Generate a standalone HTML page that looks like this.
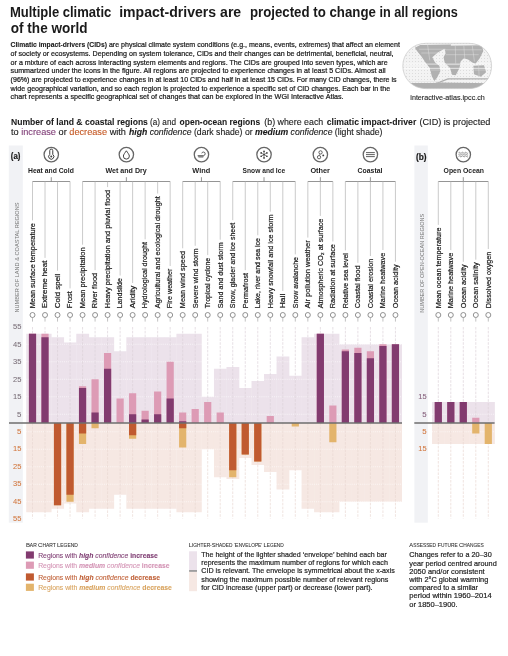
<!DOCTYPE html><html><head><meta charset="utf-8"><style>html,body{margin:0;padding:0;background:#fff;width:508px;height:656px;overflow:hidden}svg{display:block;will-change:transform}text{font-family:"Liberation Sans",sans-serif}</style></head><body>
<svg width="508" height="656" viewBox="0 0 508 656">
<text x="9.9" y="16.5" font-size="14.2" font-weight="bold" font-style="normal" fill="#1a1a1a" text-anchor="start" textLength="101.41" lengthAdjust="spacingAndGlyphs">Multiple climatic</text>
<text x="119.18" y="16.5" font-size="14.2" font-weight="bold" font-style="normal" fill="#1a1a1a" text-anchor="start" textLength="122.04" lengthAdjust="spacingAndGlyphs">impact-drivers are</text>
<text x="249.91" y="16.5" font-size="14.2" font-weight="bold" font-style="normal" fill="#1a1a1a" text-anchor="start" textLength="125.97" lengthAdjust="spacingAndGlyphs">projected to change</text>
<text x="379.41" y="16.5" font-size="14.2" font-weight="bold" font-style="normal" fill="#1a1a1a" text-anchor="start" textLength="78.37" lengthAdjust="spacingAndGlyphs">in all regions</text>
<text x="10.8" y="32.5" font-size="14.2" font-weight="bold" font-style="normal" fill="#1a1a1a" text-anchor="start" textLength="76.8" lengthAdjust="spacingAndGlyphs">of the world</text>
<text x="10.6" y="47.3" font-size="7.4" font-weight="bold" font-style="normal" fill="#1a1a1a" text-anchor="start" textLength="96.4" lengthAdjust="spacingAndGlyphs" stroke="#1a1a1a" stroke-width="0.1">Climatic impact-drivers (CIDs)</text>
<text x="108.9" y="47.3" font-size="7.4" font-weight="normal" font-style="normal" fill="#1a1a1a" text-anchor="start" textLength="291" lengthAdjust="spacingAndGlyphs" stroke="#1a1a1a" stroke-width="0.22">are physical climate system conditions (e.g., means, events, extremes) that affect an element</text>
<text x="10.6" y="55.98" font-size="7.4" font-weight="normal" font-style="normal" fill="#1a1a1a" text-anchor="start" textLength="383" lengthAdjust="spacingAndGlyphs" stroke="#1a1a1a" stroke-width="0.22">of society or ecosystems. Depending on system tolerance, CIDs and their changes can be detrimental, beneficial, neutral,</text>
<text x="10.6" y="64.66" font-size="7.4" font-weight="normal" font-style="normal" fill="#1a1a1a" text-anchor="start" textLength="377" lengthAdjust="spacingAndGlyphs" stroke="#1a1a1a" stroke-width="0.22">or a mixture of each across interacting system elements and regions. The CIDs are grouped into seven types, which are</text>
<text x="10.6" y="73.34" font-size="7.4" font-weight="normal" font-style="normal" fill="#1a1a1a" text-anchor="start" textLength="375" lengthAdjust="spacingAndGlyphs" stroke="#1a1a1a" stroke-width="0.22">summarized under the icons in the figure. All regions are projected to experience changes in at least 5 CIDs. Almost all</text>
<text x="10.6" y="82.02" font-size="7.4" font-weight="normal" font-style="normal" fill="#1a1a1a" text-anchor="start" textLength="386" lengthAdjust="spacingAndGlyphs" stroke="#1a1a1a" stroke-width="0.22">(96%) are projected to experience changes in at least 10 CIDs and half in at least 15 CIDs. For many CID changes, there is</text>
<text x="10.6" y="90.69999999999999" font-size="7.4" font-weight="normal" font-style="normal" fill="#1a1a1a" text-anchor="start" textLength="379.5" lengthAdjust="spacingAndGlyphs" stroke="#1a1a1a" stroke-width="0.22">wide geographical variation, and so each region is projected to experience a specific set of CID changes. Each bar in the</text>
<text x="10.6" y="99.38" font-size="7.4" font-weight="normal" font-style="normal" fill="#1a1a1a" text-anchor="start" textLength="333" lengthAdjust="spacingAndGlyphs" stroke="#1a1a1a" stroke-width="0.22">chart represents a specific geographical set of changes that can be explored in the WGI Interactive Atlas.</text>
<text x="11" y="124.5" font-size="8.7" font-weight="bold" font-style="normal" fill="#1a1a1a" text-anchor="start" textLength="136.9" lengthAdjust="spacingAndGlyphs" stroke="#1a1a1a" stroke-width="0.05">Number of land &amp; coastal regions</text>
<text x="150.1" y="124.5" font-size="8.7" font-weight="normal" font-style="normal" fill="#1a1a1a" text-anchor="start" textLength="25.9" lengthAdjust="spacingAndGlyphs" stroke="#1a1a1a" stroke-width="0.12">(a) and</text>
<text x="179.6" y="124.5" font-size="8.7" font-weight="bold" font-style="normal" fill="#1a1a1a" text-anchor="start" textLength="80.5" lengthAdjust="spacingAndGlyphs" stroke="#1a1a1a" stroke-width="0.05">open-ocean regions</text>
<text x="264.3" y="124.5" font-size="8.7" font-weight="normal" font-style="normal" fill="#1a1a1a" text-anchor="start" textLength="59" lengthAdjust="spacingAndGlyphs" stroke="#1a1a1a" stroke-width="0.12">(b) where each</text>
<text x="326.7" y="124.5" font-size="8.7" font-weight="bold" font-style="normal" fill="#1a1a1a" text-anchor="start" textLength="89.6" lengthAdjust="spacingAndGlyphs" stroke="#1a1a1a" stroke-width="0.05">climatic impact-driver</text>
<text x="419.5" y="124.5" font-size="8.7" font-weight="normal" font-style="normal" fill="#1a1a1a" text-anchor="start" textLength="70.8" lengthAdjust="spacingAndGlyphs" stroke="#1a1a1a" stroke-width="0.12">(CID) is projected</text>
<text x="11" y="135.1" font-size="8.7" font-weight="normal" font-style="normal" fill="#1a1a1a" text-anchor="start" textLength="115" lengthAdjust="spacingAndGlyphs" stroke="#1a1a1a" stroke-width="0.12">to <tspan fill="#83427a" stroke="#83427a">increase</tspan> or <tspan fill="#c55a26" stroke="#c55a26">decrease</tspan> with</text>
<text x="129" y="135.1" font-size="8.7" font-weight="normal" font-style="normal" fill="#1a1a1a" text-anchor="start" textLength="253.5" lengthAdjust="spacingAndGlyphs" stroke="#1a1a1a" stroke-width="0.12"><tspan font-weight="bold" font-style="italic">high</tspan> <tspan font-style="italic">confidence</tspan> (dark shade) or <tspan font-weight="bold" font-style="italic">medium</tspan> <tspan font-style="italic">confidence</tspan> (light shade)</text>
<rect x="8.8" y="145.5" width="14.0" height="377.2" fill="#f1f2f5"/>
<rect x="414.4" y="145.5" width="13.4" height="377.2" fill="#f1f2f5"/>
<text x="10.8" y="159.3" font-size="8.8" font-weight="bold" font-style="normal" fill="#1a1a1a" text-anchor="start" textLength="9.6" lengthAdjust="spacingAndGlyphs" stroke="#1a1a1a" stroke-width="0.2">(a)</text>
<text x="416" y="160.2" font-size="8.8" font-weight="bold" font-style="normal" fill="#1a1a1a" text-anchor="start" textLength="10.6" lengthAdjust="spacingAndGlyphs" stroke="#1a1a1a" stroke-width="0.2">(b)</text>
<text transform="translate(19.4,312.5) rotate(-90)" font-size="6.1" fill="#767676" textLength="110" lengthAdjust="spacingAndGlyphs">NUMBER OF LAND &amp; COASTAL REGIONS</text>
<text transform="translate(423.8,312.7) rotate(-90)" font-size="6.1" fill="#767676" textLength="99" lengthAdjust="spacingAndGlyphs">NUMBER OF OPEN-OCEAN REGIONS</text>
<rect x="26.24" y="333.75" width="12.82" height="89.25" fill="#ece2eb"/>
<rect x="26.24" y="423.00" width="12.82" height="89.25" fill="#f6e8e3"/>
<rect x="38.76" y="333.75" width="12.82" height="89.25" fill="#ece2eb"/>
<rect x="38.76" y="423.00" width="12.82" height="89.25" fill="#f6e8e3"/>
<rect x="51.27" y="337.25" width="12.82" height="85.75" fill="#ece2eb"/>
<rect x="51.27" y="423.00" width="12.82" height="85.75" fill="#f6e8e3"/>
<rect x="63.79" y="342.50" width="12.82" height="80.50" fill="#ece2eb"/>
<rect x="63.79" y="423.00" width="12.82" height="80.50" fill="#f6e8e3"/>
<rect x="76.30" y="333.75" width="12.82" height="89.25" fill="#ece2eb"/>
<rect x="76.30" y="423.00" width="12.82" height="89.25" fill="#f6e8e3"/>
<rect x="88.82" y="337.25" width="12.82" height="85.75" fill="#ece2eb"/>
<rect x="88.82" y="423.00" width="12.82" height="85.75" fill="#f6e8e3"/>
<rect x="101.33" y="337.25" width="12.82" height="85.75" fill="#ece2eb"/>
<rect x="101.33" y="423.00" width="12.82" height="85.75" fill="#f6e8e3"/>
<rect x="113.85" y="351.25" width="12.82" height="71.75" fill="#ece2eb"/>
<rect x="113.85" y="423.00" width="12.82" height="71.75" fill="#f6e8e3"/>
<rect x="126.36" y="337.25" width="12.82" height="85.75" fill="#ece2eb"/>
<rect x="126.36" y="423.00" width="12.82" height="85.75" fill="#f6e8e3"/>
<rect x="138.88" y="337.25" width="12.82" height="85.75" fill="#ece2eb"/>
<rect x="138.88" y="423.00" width="12.82" height="85.75" fill="#f6e8e3"/>
<rect x="151.39" y="337.25" width="12.82" height="85.75" fill="#ece2eb"/>
<rect x="151.39" y="423.00" width="12.82" height="85.75" fill="#f6e8e3"/>
<rect x="163.91" y="337.25" width="12.82" height="85.75" fill="#ece2eb"/>
<rect x="163.91" y="423.00" width="12.82" height="85.75" fill="#f6e8e3"/>
<rect x="176.42" y="333.75" width="12.82" height="89.25" fill="#ece2eb"/>
<rect x="176.42" y="423.00" width="12.82" height="89.25" fill="#f6e8e3"/>
<rect x="188.94" y="333.75" width="12.82" height="89.25" fill="#ece2eb"/>
<rect x="188.94" y="423.00" width="12.82" height="89.25" fill="#f6e8e3"/>
<rect x="201.45" y="396.75" width="12.82" height="26.25" fill="#ece2eb"/>
<rect x="201.45" y="423.00" width="12.82" height="26.25" fill="#f6e8e3"/>
<rect x="213.97" y="368.75" width="12.82" height="54.25" fill="#ece2eb"/>
<rect x="213.97" y="423.00" width="12.82" height="54.25" fill="#f6e8e3"/>
<rect x="226.48" y="367.00" width="12.82" height="56.00" fill="#ece2eb"/>
<rect x="226.48" y="423.00" width="12.82" height="56.00" fill="#f6e8e3"/>
<rect x="239.00" y="388.00" width="12.82" height="35.00" fill="#ece2eb"/>
<rect x="239.00" y="423.00" width="12.82" height="35.00" fill="#f6e8e3"/>
<rect x="251.51" y="381.00" width="12.82" height="42.00" fill="#ece2eb"/>
<rect x="251.51" y="423.00" width="12.82" height="42.00" fill="#f6e8e3"/>
<rect x="264.03" y="374.00" width="12.82" height="49.00" fill="#ece2eb"/>
<rect x="264.03" y="423.00" width="12.82" height="49.00" fill="#f6e8e3"/>
<rect x="276.54" y="356.50" width="12.82" height="66.50" fill="#ece2eb"/>
<rect x="276.54" y="423.00" width="12.82" height="66.50" fill="#f6e8e3"/>
<rect x="289.06" y="375.75" width="12.82" height="47.25" fill="#ece2eb"/>
<rect x="289.06" y="423.00" width="12.82" height="47.25" fill="#f6e8e3"/>
<rect x="301.57" y="337.25" width="12.82" height="85.75" fill="#ece2eb"/>
<rect x="301.57" y="423.00" width="12.82" height="85.75" fill="#f6e8e3"/>
<rect x="314.09" y="333.75" width="12.82" height="89.25" fill="#ece2eb"/>
<rect x="314.09" y="423.00" width="12.82" height="89.25" fill="#f6e8e3"/>
<rect x="326.60" y="333.75" width="12.82" height="89.25" fill="#ece2eb"/>
<rect x="326.60" y="423.00" width="12.82" height="89.25" fill="#f6e8e3"/>
<rect x="339.12" y="344.25" width="12.82" height="78.75" fill="#ece2eb"/>
<rect x="339.12" y="423.00" width="12.82" height="78.75" fill="#f6e8e3"/>
<rect x="351.63" y="344.25" width="12.82" height="78.75" fill="#ece2eb"/>
<rect x="351.63" y="423.00" width="12.82" height="78.75" fill="#f6e8e3"/>
<rect x="364.15" y="344.25" width="12.82" height="78.75" fill="#ece2eb"/>
<rect x="364.15" y="423.00" width="12.82" height="78.75" fill="#f6e8e3"/>
<rect x="376.66" y="344.25" width="12.82" height="78.75" fill="#ece2eb"/>
<rect x="376.66" y="423.00" width="12.82" height="78.75" fill="#f6e8e3"/>
<rect x="389.18" y="344.25" width="12.82" height="78.75" fill="#ece2eb"/>
<rect x="389.18" y="423.00" width="12.82" height="78.75" fill="#f6e8e3"/>
<line x1="26.2425" x2="401.6925" y1="414.25" y2="414.25" stroke="#ffffff" stroke-width="0.8" stroke-dasharray="1 1.1" opacity="0.75"/>
<line x1="26.2425" x2="401.6925" y1="431.75" y2="431.75" stroke="#ffffff" stroke-width="0.8" stroke-dasharray="1 1.1" opacity="0.75"/>
<line x1="26.2425" x2="401.6925" y1="396.75" y2="396.75" stroke="#ffffff" stroke-width="0.8" stroke-dasharray="1 1.1" opacity="0.75"/>
<line x1="26.2425" x2="401.6925" y1="449.25" y2="449.25" stroke="#ffffff" stroke-width="0.8" stroke-dasharray="1 1.1" opacity="0.75"/>
<line x1="26.2425" x2="401.6925" y1="379.25" y2="379.25" stroke="#ffffff" stroke-width="0.8" stroke-dasharray="1 1.1" opacity="0.75"/>
<line x1="26.2425" x2="401.6925" y1="466.75" y2="466.75" stroke="#ffffff" stroke-width="0.8" stroke-dasharray="1 1.1" opacity="0.75"/>
<line x1="26.2425" x2="401.6925" y1="361.75" y2="361.75" stroke="#ffffff" stroke-width="0.8" stroke-dasharray="1 1.1" opacity="0.75"/>
<line x1="26.2425" x2="401.6925" y1="484.25" y2="484.25" stroke="#ffffff" stroke-width="0.8" stroke-dasharray="1 1.1" opacity="0.75"/>
<line x1="26.2425" x2="401.6925" y1="344.25" y2="344.25" stroke="#ffffff" stroke-width="0.8" stroke-dasharray="1 1.1" opacity="0.75"/>
<line x1="26.2425" x2="401.6925" y1="501.75" y2="501.75" stroke="#ffffff" stroke-width="0.8" stroke-dasharray="1 1.1" opacity="0.75"/>
<line x1="26.2425" x2="401.6925" y1="326.75" y2="326.75" stroke="#ffffff" stroke-width="0.8" stroke-dasharray="1 1.1" opacity="0.75"/>
<line x1="26.2425" x2="401.6925" y1="519.25" y2="519.25" stroke="#ffffff" stroke-width="0.8" stroke-dasharray="1 1.1" opacity="0.75"/>
<line x1="32.50" x2="32.50" y1="317.6" y2="321.6" stroke="#a8a8a8" stroke-width="0.7"/>
<line x1="32.50" x2="32.50" y1="327" y2="423.00" stroke="#dcd2da" stroke-width="0.7" stroke-dasharray="2.6 1.2"/>
<line x1="32.50" x2="32.50" y1="423.00" y2="518.5" stroke="#ead8d2" stroke-width="0.7" stroke-dasharray="2.6 1.2"/>
<line x1="45.02" x2="45.02" y1="317.6" y2="321.6" stroke="#a8a8a8" stroke-width="0.7"/>
<line x1="45.02" x2="45.02" y1="327" y2="423.00" stroke="#dcd2da" stroke-width="0.7" stroke-dasharray="2.6 1.2"/>
<line x1="45.02" x2="45.02" y1="423.00" y2="518.5" stroke="#ead8d2" stroke-width="0.7" stroke-dasharray="2.6 1.2"/>
<line x1="57.53" x2="57.53" y1="317.6" y2="321.6" stroke="#a8a8a8" stroke-width="0.7"/>
<line x1="57.53" x2="57.53" y1="327" y2="423.00" stroke="#dcd2da" stroke-width="0.7" stroke-dasharray="2.6 1.2"/>
<line x1="57.53" x2="57.53" y1="423.00" y2="518.5" stroke="#ead8d2" stroke-width="0.7" stroke-dasharray="2.6 1.2"/>
<line x1="70.05" x2="70.05" y1="317.6" y2="321.6" stroke="#a8a8a8" stroke-width="0.7"/>
<line x1="70.05" x2="70.05" y1="327" y2="423.00" stroke="#dcd2da" stroke-width="0.7" stroke-dasharray="2.6 1.2"/>
<line x1="70.05" x2="70.05" y1="423.00" y2="518.5" stroke="#ead8d2" stroke-width="0.7" stroke-dasharray="2.6 1.2"/>
<line x1="82.56" x2="82.56" y1="317.6" y2="321.6" stroke="#a8a8a8" stroke-width="0.7"/>
<line x1="82.56" x2="82.56" y1="327" y2="423.00" stroke="#dcd2da" stroke-width="0.7" stroke-dasharray="2.6 1.2"/>
<line x1="82.56" x2="82.56" y1="423.00" y2="518.5" stroke="#ead8d2" stroke-width="0.7" stroke-dasharray="2.6 1.2"/>
<line x1="95.08" x2="95.08" y1="317.6" y2="321.6" stroke="#a8a8a8" stroke-width="0.7"/>
<line x1="95.08" x2="95.08" y1="327" y2="423.00" stroke="#dcd2da" stroke-width="0.7" stroke-dasharray="2.6 1.2"/>
<line x1="95.08" x2="95.08" y1="423.00" y2="518.5" stroke="#ead8d2" stroke-width="0.7" stroke-dasharray="2.6 1.2"/>
<line x1="107.59" x2="107.59" y1="317.6" y2="321.6" stroke="#a8a8a8" stroke-width="0.7"/>
<line x1="107.59" x2="107.59" y1="327" y2="423.00" stroke="#dcd2da" stroke-width="0.7" stroke-dasharray="2.6 1.2"/>
<line x1="107.59" x2="107.59" y1="423.00" y2="518.5" stroke="#ead8d2" stroke-width="0.7" stroke-dasharray="2.6 1.2"/>
<line x1="120.11" x2="120.11" y1="317.6" y2="321.6" stroke="#a8a8a8" stroke-width="0.7"/>
<line x1="120.11" x2="120.11" y1="327" y2="423.00" stroke="#dcd2da" stroke-width="0.7" stroke-dasharray="2.6 1.2"/>
<line x1="120.11" x2="120.11" y1="423.00" y2="518.5" stroke="#ead8d2" stroke-width="0.7" stroke-dasharray="2.6 1.2"/>
<line x1="132.62" x2="132.62" y1="317.6" y2="321.6" stroke="#a8a8a8" stroke-width="0.7"/>
<line x1="132.62" x2="132.62" y1="327" y2="423.00" stroke="#dcd2da" stroke-width="0.7" stroke-dasharray="2.6 1.2"/>
<line x1="132.62" x2="132.62" y1="423.00" y2="518.5" stroke="#ead8d2" stroke-width="0.7" stroke-dasharray="2.6 1.2"/>
<line x1="145.13" x2="145.13" y1="317.6" y2="321.6" stroke="#a8a8a8" stroke-width="0.7"/>
<line x1="145.13" x2="145.13" y1="327" y2="423.00" stroke="#dcd2da" stroke-width="0.7" stroke-dasharray="2.6 1.2"/>
<line x1="145.13" x2="145.13" y1="423.00" y2="518.5" stroke="#ead8d2" stroke-width="0.7" stroke-dasharray="2.6 1.2"/>
<line x1="157.65" x2="157.65" y1="317.6" y2="321.6" stroke="#a8a8a8" stroke-width="0.7"/>
<line x1="157.65" x2="157.65" y1="327" y2="423.00" stroke="#dcd2da" stroke-width="0.7" stroke-dasharray="2.6 1.2"/>
<line x1="157.65" x2="157.65" y1="423.00" y2="518.5" stroke="#ead8d2" stroke-width="0.7" stroke-dasharray="2.6 1.2"/>
<line x1="170.17" x2="170.17" y1="317.6" y2="321.6" stroke="#a8a8a8" stroke-width="0.7"/>
<line x1="170.17" x2="170.17" y1="327" y2="423.00" stroke="#dcd2da" stroke-width="0.7" stroke-dasharray="2.6 1.2"/>
<line x1="170.17" x2="170.17" y1="423.00" y2="518.5" stroke="#ead8d2" stroke-width="0.7" stroke-dasharray="2.6 1.2"/>
<line x1="182.68" x2="182.68" y1="317.6" y2="321.6" stroke="#a8a8a8" stroke-width="0.7"/>
<line x1="182.68" x2="182.68" y1="327" y2="423.00" stroke="#dcd2da" stroke-width="0.7" stroke-dasharray="2.6 1.2"/>
<line x1="182.68" x2="182.68" y1="423.00" y2="518.5" stroke="#ead8d2" stroke-width="0.7" stroke-dasharray="2.6 1.2"/>
<line x1="195.19" x2="195.19" y1="317.6" y2="321.6" stroke="#a8a8a8" stroke-width="0.7"/>
<line x1="195.19" x2="195.19" y1="327" y2="423.00" stroke="#dcd2da" stroke-width="0.7" stroke-dasharray="2.6 1.2"/>
<line x1="195.19" x2="195.19" y1="423.00" y2="518.5" stroke="#ead8d2" stroke-width="0.7" stroke-dasharray="2.6 1.2"/>
<line x1="207.71" x2="207.71" y1="317.6" y2="321.6" stroke="#a8a8a8" stroke-width="0.7"/>
<line x1="207.71" x2="207.71" y1="327" y2="423.00" stroke="#dcd2da" stroke-width="0.7" stroke-dasharray="2.6 1.2"/>
<line x1="207.71" x2="207.71" y1="423.00" y2="518.5" stroke="#ead8d2" stroke-width="0.7" stroke-dasharray="2.6 1.2"/>
<line x1="220.23" x2="220.23" y1="317.6" y2="321.6" stroke="#a8a8a8" stroke-width="0.7"/>
<line x1="220.23" x2="220.23" y1="327" y2="423.00" stroke="#dcd2da" stroke-width="0.7" stroke-dasharray="2.6 1.2"/>
<line x1="220.23" x2="220.23" y1="423.00" y2="518.5" stroke="#ead8d2" stroke-width="0.7" stroke-dasharray="2.6 1.2"/>
<line x1="232.74" x2="232.74" y1="317.6" y2="321.6" stroke="#a8a8a8" stroke-width="0.7"/>
<line x1="232.74" x2="232.74" y1="327" y2="423.00" stroke="#dcd2da" stroke-width="0.7" stroke-dasharray="2.6 1.2"/>
<line x1="232.74" x2="232.74" y1="423.00" y2="518.5" stroke="#ead8d2" stroke-width="0.7" stroke-dasharray="2.6 1.2"/>
<line x1="245.25" x2="245.25" y1="317.6" y2="321.6" stroke="#a8a8a8" stroke-width="0.7"/>
<line x1="245.25" x2="245.25" y1="327" y2="423.00" stroke="#dcd2da" stroke-width="0.7" stroke-dasharray="2.6 1.2"/>
<line x1="245.25" x2="245.25" y1="423.00" y2="518.5" stroke="#ead8d2" stroke-width="0.7" stroke-dasharray="2.6 1.2"/>
<line x1="257.77" x2="257.77" y1="317.6" y2="321.6" stroke="#a8a8a8" stroke-width="0.7"/>
<line x1="257.77" x2="257.77" y1="327" y2="423.00" stroke="#dcd2da" stroke-width="0.7" stroke-dasharray="2.6 1.2"/>
<line x1="257.77" x2="257.77" y1="423.00" y2="518.5" stroke="#ead8d2" stroke-width="0.7" stroke-dasharray="2.6 1.2"/>
<line x1="270.29" x2="270.29" y1="317.6" y2="321.6" stroke="#a8a8a8" stroke-width="0.7"/>
<line x1="270.29" x2="270.29" y1="327" y2="423.00" stroke="#dcd2da" stroke-width="0.7" stroke-dasharray="2.6 1.2"/>
<line x1="270.29" x2="270.29" y1="423.00" y2="518.5" stroke="#ead8d2" stroke-width="0.7" stroke-dasharray="2.6 1.2"/>
<line x1="282.80" x2="282.80" y1="317.6" y2="321.6" stroke="#a8a8a8" stroke-width="0.7"/>
<line x1="282.80" x2="282.80" y1="327" y2="423.00" stroke="#dcd2da" stroke-width="0.7" stroke-dasharray="2.6 1.2"/>
<line x1="282.80" x2="282.80" y1="423.00" y2="518.5" stroke="#ead8d2" stroke-width="0.7" stroke-dasharray="2.6 1.2"/>
<line x1="295.31" x2="295.31" y1="317.6" y2="321.6" stroke="#a8a8a8" stroke-width="0.7"/>
<line x1="295.31" x2="295.31" y1="327" y2="423.00" stroke="#dcd2da" stroke-width="0.7" stroke-dasharray="2.6 1.2"/>
<line x1="295.31" x2="295.31" y1="423.00" y2="518.5" stroke="#ead8d2" stroke-width="0.7" stroke-dasharray="2.6 1.2"/>
<line x1="307.83" x2="307.83" y1="317.6" y2="321.6" stroke="#a8a8a8" stroke-width="0.7"/>
<line x1="307.83" x2="307.83" y1="327" y2="423.00" stroke="#dcd2da" stroke-width="0.7" stroke-dasharray="2.6 1.2"/>
<line x1="307.83" x2="307.83" y1="423.00" y2="518.5" stroke="#ead8d2" stroke-width="0.7" stroke-dasharray="2.6 1.2"/>
<line x1="320.35" x2="320.35" y1="317.6" y2="321.6" stroke="#a8a8a8" stroke-width="0.7"/>
<line x1="320.35" x2="320.35" y1="327" y2="423.00" stroke="#dcd2da" stroke-width="0.7" stroke-dasharray="2.6 1.2"/>
<line x1="320.35" x2="320.35" y1="423.00" y2="518.5" stroke="#ead8d2" stroke-width="0.7" stroke-dasharray="2.6 1.2"/>
<line x1="332.86" x2="332.86" y1="317.6" y2="321.6" stroke="#a8a8a8" stroke-width="0.7"/>
<line x1="332.86" x2="332.86" y1="327" y2="423.00" stroke="#dcd2da" stroke-width="0.7" stroke-dasharray="2.6 1.2"/>
<line x1="332.86" x2="332.86" y1="423.00" y2="518.5" stroke="#ead8d2" stroke-width="0.7" stroke-dasharray="2.6 1.2"/>
<line x1="345.38" x2="345.38" y1="317.6" y2="321.6" stroke="#a8a8a8" stroke-width="0.7"/>
<line x1="345.38" x2="345.38" y1="327" y2="423.00" stroke="#dcd2da" stroke-width="0.7" stroke-dasharray="2.6 1.2"/>
<line x1="345.38" x2="345.38" y1="423.00" y2="518.5" stroke="#ead8d2" stroke-width="0.7" stroke-dasharray="2.6 1.2"/>
<line x1="357.89" x2="357.89" y1="317.6" y2="321.6" stroke="#a8a8a8" stroke-width="0.7"/>
<line x1="357.89" x2="357.89" y1="327" y2="423.00" stroke="#dcd2da" stroke-width="0.7" stroke-dasharray="2.6 1.2"/>
<line x1="357.89" x2="357.89" y1="423.00" y2="518.5" stroke="#ead8d2" stroke-width="0.7" stroke-dasharray="2.6 1.2"/>
<line x1="370.41" x2="370.41" y1="317.6" y2="321.6" stroke="#a8a8a8" stroke-width="0.7"/>
<line x1="370.41" x2="370.41" y1="327" y2="423.00" stroke="#dcd2da" stroke-width="0.7" stroke-dasharray="2.6 1.2"/>
<line x1="370.41" x2="370.41" y1="423.00" y2="518.5" stroke="#ead8d2" stroke-width="0.7" stroke-dasharray="2.6 1.2"/>
<line x1="382.92" x2="382.92" y1="317.6" y2="321.6" stroke="#a8a8a8" stroke-width="0.7"/>
<line x1="382.92" x2="382.92" y1="327" y2="423.00" stroke="#dcd2da" stroke-width="0.7" stroke-dasharray="2.6 1.2"/>
<line x1="382.92" x2="382.92" y1="423.00" y2="518.5" stroke="#ead8d2" stroke-width="0.7" stroke-dasharray="2.6 1.2"/>
<line x1="395.44" x2="395.44" y1="317.6" y2="321.6" stroke="#a8a8a8" stroke-width="0.7"/>
<line x1="395.44" x2="395.44" y1="327" y2="423.00" stroke="#dcd2da" stroke-width="0.7" stroke-dasharray="2.6 1.2"/>
<line x1="395.44" x2="395.44" y1="423.00" y2="518.5" stroke="#ead8d2" stroke-width="0.7" stroke-dasharray="2.6 1.2"/>
<rect x="28.90" y="333.75" width="7.2" height="89.25" fill="#dd9bb5"/>
<rect x="28.90" y="333.75" width="7.2" height="89.25" fill="#823b6f"/>
<rect x="41.41" y="333.75" width="7.2" height="89.25" fill="#dd9bb5"/>
<rect x="41.41" y="337.25" width="7.2" height="85.75" fill="#823b6f"/>
<rect x="53.93" y="423.00" width="7.2" height="82.25" fill="#e3b46c"/>
<rect x="53.93" y="423.00" width="7.2" height="82.25" fill="#c05a30"/>
<rect x="66.45" y="423.00" width="7.2" height="78.75" fill="#e3b46c"/>
<rect x="66.45" y="423.00" width="7.2" height="71.75" fill="#c05a30"/>
<rect x="78.96" y="386.25" width="7.2" height="36.75" fill="#dd9bb5"/>
<rect x="78.96" y="388.00" width="7.2" height="35.00" fill="#823b6f"/>
<rect x="78.96" y="423.00" width="7.2" height="21.00" fill="#e3b46c"/>
<rect x="78.96" y="423.00" width="7.2" height="10.50" fill="#c05a30"/>
<rect x="91.48" y="379.25" width="7.2" height="43.75" fill="#dd9bb5"/>
<rect x="91.48" y="412.50" width="7.2" height="10.50" fill="#823b6f"/>
<rect x="91.48" y="423.00" width="7.2" height="5.25" fill="#e3b46c"/>
<rect x="103.99" y="353.00" width="7.2" height="70.00" fill="#dd9bb5"/>
<rect x="103.99" y="368.75" width="7.2" height="54.25" fill="#823b6f"/>
<rect x="116.51" y="398.50" width="7.2" height="24.50" fill="#dd9bb5"/>
<rect x="129.02" y="393.25" width="7.2" height="29.75" fill="#dd9bb5"/>
<rect x="129.02" y="414.25" width="7.2" height="8.75" fill="#823b6f"/>
<rect x="129.02" y="423.00" width="7.2" height="15.75" fill="#e3b46c"/>
<rect x="129.02" y="423.00" width="7.2" height="12.25" fill="#c05a30"/>
<rect x="141.53" y="410.75" width="7.2" height="12.25" fill="#dd9bb5"/>
<rect x="141.53" y="419.50" width="7.2" height="3.50" fill="#823b6f"/>
<rect x="154.05" y="391.50" width="7.2" height="31.50" fill="#dd9bb5"/>
<rect x="154.05" y="414.25" width="7.2" height="8.75" fill="#823b6f"/>
<rect x="166.57" y="361.75" width="7.2" height="61.25" fill="#dd9bb5"/>
<rect x="166.57" y="398.50" width="7.2" height="24.50" fill="#823b6f"/>
<rect x="179.08" y="412.50" width="7.2" height="10.50" fill="#dd9bb5"/>
<rect x="179.08" y="421.25" width="7.2" height="1.75" fill="#823b6f"/>
<rect x="179.08" y="423.00" width="7.2" height="24.50" fill="#e3b46c"/>
<rect x="179.08" y="423.00" width="7.2" height="5.25" fill="#c05a30"/>
<rect x="191.59" y="409.00" width="7.2" height="14.00" fill="#dd9bb5"/>
<rect x="204.11" y="402.00" width="7.2" height="21.00" fill="#dd9bb5"/>
<rect x="216.63" y="412.50" width="7.2" height="10.50" fill="#dd9bb5"/>
<rect x="229.14" y="423.00" width="7.2" height="54.25" fill="#e3b46c"/>
<rect x="229.14" y="423.00" width="7.2" height="47.25" fill="#c05a30"/>
<rect x="241.66" y="423.00" width="7.2" height="31.50" fill="#e3b46c"/>
<rect x="241.66" y="423.00" width="7.2" height="31.50" fill="#c05a30"/>
<rect x="254.17" y="423.00" width="7.2" height="38.50" fill="#e3b46c"/>
<rect x="254.17" y="423.00" width="7.2" height="38.50" fill="#c05a30"/>
<rect x="266.69" y="416.00" width="7.2" height="7.00" fill="#dd9bb5"/>
<rect x="291.71" y="423.00" width="7.2" height="3.50" fill="#e3b46c"/>
<rect x="316.75" y="333.75" width="7.2" height="89.25" fill="#dd9bb5"/>
<rect x="316.75" y="333.75" width="7.2" height="89.25" fill="#823b6f"/>
<rect x="329.26" y="405.50" width="7.2" height="17.50" fill="#dd9bb5"/>
<rect x="329.26" y="423.00" width="7.2" height="19.25" fill="#e3b46c"/>
<rect x="341.77" y="349.50" width="7.2" height="73.50" fill="#dd9bb5"/>
<rect x="341.77" y="351.25" width="7.2" height="71.75" fill="#823b6f"/>
<rect x="354.29" y="347.75" width="7.2" height="75.25" fill="#dd9bb5"/>
<rect x="354.29" y="353.00" width="7.2" height="70.00" fill="#823b6f"/>
<rect x="366.81" y="351.25" width="7.2" height="71.75" fill="#dd9bb5"/>
<rect x="366.81" y="358.25" width="7.2" height="64.75" fill="#823b6f"/>
<rect x="379.32" y="344.25" width="7.2" height="78.75" fill="#dd9bb5"/>
<rect x="379.32" y="346.00" width="7.2" height="77.00" fill="#823b6f"/>
<rect x="391.83" y="344.25" width="7.2" height="78.75" fill="#dd9bb5"/>
<rect x="391.83" y="344.25" width="7.2" height="78.75" fill="#823b6f"/>
<rect x="432.04" y="402.00" width="12.82" height="21.00" fill="#ece2eb"/>
<rect x="432.04" y="423.00" width="12.82" height="21.00" fill="#f6e8e3"/>
<rect x="444.54" y="402.00" width="12.82" height="21.00" fill="#ece2eb"/>
<rect x="444.54" y="423.00" width="12.82" height="21.00" fill="#f6e8e3"/>
<rect x="457.04" y="402.00" width="12.82" height="21.00" fill="#ece2eb"/>
<rect x="457.04" y="423.00" width="12.82" height="21.00" fill="#f6e8e3"/>
<rect x="469.54" y="402.00" width="12.82" height="21.00" fill="#ece2eb"/>
<rect x="469.54" y="423.00" width="12.82" height="21.00" fill="#f6e8e3"/>
<rect x="482.04" y="402.00" width="12.82" height="21.00" fill="#ece2eb"/>
<rect x="482.04" y="423.00" width="12.82" height="21.00" fill="#f6e8e3"/>
<line x1="432.0425" x2="494.5575" y1="414.25" y2="414.25" stroke="#ffffff" stroke-width="0.8" stroke-dasharray="1 1.1" opacity="0.75"/>
<line x1="432.0425" x2="494.5575" y1="431.75" y2="431.75" stroke="#ffffff" stroke-width="0.8" stroke-dasharray="1 1.1" opacity="0.75"/>
<line x1="432.0425" x2="494.5575" y1="396.75" y2="396.75" stroke="#ffffff" stroke-width="0.8" stroke-dasharray="1 1.1" opacity="0.75"/>
<line x1="432.0425" x2="494.5575" y1="449.25" y2="449.25" stroke="#ffffff" stroke-width="0.8" stroke-dasharray="1 1.1" opacity="0.75"/>
<line x1="432.0425" x2="494.5575" y1="379.25" y2="379.25" stroke="#ffffff" stroke-width="0.8" stroke-dasharray="1 1.1" opacity="0.75"/>
<line x1="432.0425" x2="494.5575" y1="466.75" y2="466.75" stroke="#ffffff" stroke-width="0.8" stroke-dasharray="1 1.1" opacity="0.75"/>
<line x1="432.0425" x2="494.5575" y1="361.75" y2="361.75" stroke="#ffffff" stroke-width="0.8" stroke-dasharray="1 1.1" opacity="0.75"/>
<line x1="432.0425" x2="494.5575" y1="484.25" y2="484.25" stroke="#ffffff" stroke-width="0.8" stroke-dasharray="1 1.1" opacity="0.75"/>
<line x1="432.0425" x2="494.5575" y1="344.25" y2="344.25" stroke="#ffffff" stroke-width="0.8" stroke-dasharray="1 1.1" opacity="0.75"/>
<line x1="432.0425" x2="494.5575" y1="501.75" y2="501.75" stroke="#ffffff" stroke-width="0.8" stroke-dasharray="1 1.1" opacity="0.75"/>
<line x1="432.0425" x2="494.5575" y1="326.75" y2="326.75" stroke="#ffffff" stroke-width="0.8" stroke-dasharray="1 1.1" opacity="0.75"/>
<line x1="432.0425" x2="494.5575" y1="519.25" y2="519.25" stroke="#ffffff" stroke-width="0.8" stroke-dasharray="1 1.1" opacity="0.75"/>
<line x1="438.30" x2="438.30" y1="317.6" y2="321.6" stroke="#a8a8a8" stroke-width="0.7"/>
<line x1="438.30" x2="438.30" y1="327" y2="423.00" stroke="#dcd2da" stroke-width="0.7" stroke-dasharray="2.6 1.2"/>
<line x1="438.30" x2="438.30" y1="423.00" y2="518.5" stroke="#ead8d2" stroke-width="0.7" stroke-dasharray="2.6 1.2"/>
<line x1="450.80" x2="450.80" y1="317.6" y2="321.6" stroke="#a8a8a8" stroke-width="0.7"/>
<line x1="450.80" x2="450.80" y1="327" y2="423.00" stroke="#dcd2da" stroke-width="0.7" stroke-dasharray="2.6 1.2"/>
<line x1="450.80" x2="450.80" y1="423.00" y2="518.5" stroke="#ead8d2" stroke-width="0.7" stroke-dasharray="2.6 1.2"/>
<line x1="463.30" x2="463.30" y1="317.6" y2="321.6" stroke="#a8a8a8" stroke-width="0.7"/>
<line x1="463.30" x2="463.30" y1="327" y2="423.00" stroke="#dcd2da" stroke-width="0.7" stroke-dasharray="2.6 1.2"/>
<line x1="463.30" x2="463.30" y1="423.00" y2="518.5" stroke="#ead8d2" stroke-width="0.7" stroke-dasharray="2.6 1.2"/>
<line x1="475.80" x2="475.80" y1="317.6" y2="321.6" stroke="#a8a8a8" stroke-width="0.7"/>
<line x1="475.80" x2="475.80" y1="327" y2="423.00" stroke="#dcd2da" stroke-width="0.7" stroke-dasharray="2.6 1.2"/>
<line x1="475.80" x2="475.80" y1="423.00" y2="518.5" stroke="#ead8d2" stroke-width="0.7" stroke-dasharray="2.6 1.2"/>
<line x1="488.30" x2="488.30" y1="317.6" y2="321.6" stroke="#a8a8a8" stroke-width="0.7"/>
<line x1="488.30" x2="488.30" y1="327" y2="423.00" stroke="#dcd2da" stroke-width="0.7" stroke-dasharray="2.6 1.2"/>
<line x1="488.30" x2="488.30" y1="423.00" y2="518.5" stroke="#ead8d2" stroke-width="0.7" stroke-dasharray="2.6 1.2"/>
<rect x="434.70" y="402.00" width="7.2" height="21.00" fill="#dd9bb5"/>
<rect x="434.70" y="402.00" width="7.2" height="21.00" fill="#823b6f"/>
<rect x="447.20" y="402.00" width="7.2" height="21.00" fill="#dd9bb5"/>
<rect x="447.20" y="402.00" width="7.2" height="21.00" fill="#823b6f"/>
<rect x="459.70" y="402.00" width="7.2" height="21.00" fill="#dd9bb5"/>
<rect x="459.70" y="402.00" width="7.2" height="21.00" fill="#823b6f"/>
<rect x="472.20" y="417.75" width="7.2" height="5.25" fill="#dd9bb5"/>
<rect x="472.20" y="423.00" width="7.2" height="10.50" fill="#e3b46c"/>
<rect x="484.70" y="423.00" width="7.2" height="21.00" fill="#e3b46c"/>
<line x1="9" x2="402" y1="423.0" y2="423.0" stroke="#6e6e6e" stroke-width="1.3"/>
<line x1="414.3" x2="494.6" y1="423.0" y2="423.0" stroke="#6e6e6e" stroke-width="1.3"/>
<text x="21.4" y="329.35" font-size="7.3" font-weight="normal" font-style="normal" fill="#7a6f78" text-anchor="end" textLength="8.4" lengthAdjust="spacingAndGlyphs" stroke="#7a6f78" stroke-width="0.06">55</text>
<text x="21.4" y="521.45" font-size="7.3" font-weight="normal" font-style="normal" fill="#d2773f" text-anchor="end" textLength="8.4" lengthAdjust="spacingAndGlyphs" stroke="#d2773f" stroke-width="0.06">55</text>
<text x="21.4" y="346.85" font-size="7.3" font-weight="normal" font-style="normal" fill="#7a6f78" text-anchor="end" textLength="8.4" lengthAdjust="spacingAndGlyphs" stroke="#7a6f78" stroke-width="0.06">45</text>
<text x="21.4" y="503.95" font-size="7.3" font-weight="normal" font-style="normal" fill="#d2773f" text-anchor="end" textLength="8.4" lengthAdjust="spacingAndGlyphs" stroke="#d2773f" stroke-width="0.06">45</text>
<text x="21.4" y="364.35" font-size="7.3" font-weight="normal" font-style="normal" fill="#7a6f78" text-anchor="end" textLength="8.4" lengthAdjust="spacingAndGlyphs" stroke="#7a6f78" stroke-width="0.06">35</text>
<text x="21.4" y="486.45" font-size="7.3" font-weight="normal" font-style="normal" fill="#d2773f" text-anchor="end" textLength="8.4" lengthAdjust="spacingAndGlyphs" stroke="#d2773f" stroke-width="0.06">35</text>
<text x="21.4" y="381.85" font-size="7.3" font-weight="normal" font-style="normal" fill="#7a6f78" text-anchor="end" textLength="8.4" lengthAdjust="spacingAndGlyphs" stroke="#7a6f78" stroke-width="0.06">25</text>
<text x="21.4" y="468.95" font-size="7.3" font-weight="normal" font-style="normal" fill="#d2773f" text-anchor="end" textLength="8.4" lengthAdjust="spacingAndGlyphs" stroke="#d2773f" stroke-width="0.06">25</text>
<text x="21.4" y="399.35" font-size="7.3" font-weight="normal" font-style="normal" fill="#7a6f78" text-anchor="end" textLength="8.4" lengthAdjust="spacingAndGlyphs" stroke="#7a6f78" stroke-width="0.06">15</text>
<text x="21.4" y="451.45" font-size="7.3" font-weight="normal" font-style="normal" fill="#d2773f" text-anchor="end" textLength="8.4" lengthAdjust="spacingAndGlyphs" stroke="#d2773f" stroke-width="0.06">15</text>
<text x="21.4" y="416.85" font-size="7.3" font-weight="normal" font-style="normal" fill="#7a6f78" text-anchor="end" textLength="4.4" lengthAdjust="spacingAndGlyphs" stroke="#7a6f78" stroke-width="0.06">5</text>
<text x="21.4" y="433.95" font-size="7.3" font-weight="normal" font-style="normal" fill="#d2773f" text-anchor="end" textLength="4.4" lengthAdjust="spacingAndGlyphs" stroke="#d2773f" stroke-width="0.06">5</text>
<text x="426.6" y="399.35" font-size="7.3" font-weight="normal" font-style="normal" fill="#86607c" text-anchor="end" textLength="8.4" lengthAdjust="spacingAndGlyphs" stroke="#86607c" stroke-width="0.06">15</text>
<text x="426.6" y="451.45" font-size="7.3" font-weight="normal" font-style="normal" fill="#d2773f" text-anchor="end" textLength="8.4" lengthAdjust="spacingAndGlyphs" stroke="#d2773f" stroke-width="0.06">15</text>
<text x="426.6" y="416.85" font-size="7.3" font-weight="normal" font-style="normal" fill="#86607c" text-anchor="end" textLength="4.4" lengthAdjust="spacingAndGlyphs" stroke="#86607c" stroke-width="0.06">5</text>
<text x="426.6" y="433.95" font-size="7.3" font-weight="normal" font-style="normal" fill="#d2773f" text-anchor="end" textLength="4.4" lengthAdjust="spacingAndGlyphs" stroke="#d2773f" stroke-width="0.06">5</text>
<text transform="translate(34.80,308.2) rotate(-90)" font-size="7.3" fill="#1a1a1a" stroke="#1a1a1a" stroke-width="0.2" textLength="85.1" lengthAdjust="spacingAndGlyphs">Mean surface temperature</text>
<circle cx="32.50" cy="315" r="2.5" fill="#fff" stroke="#777" stroke-width="0.8"/>
<text transform="translate(47.31,308.2) rotate(-90)" font-size="7.3" fill="#1a1a1a" stroke="#1a1a1a" stroke-width="0.2" textLength="47.6" lengthAdjust="spacingAndGlyphs">Extreme heat</text>
<circle cx="45.02" cy="315" r="2.5" fill="#fff" stroke="#777" stroke-width="0.8"/>
<text transform="translate(59.83,308.2) rotate(-90)" font-size="7.3" fill="#1a1a1a" stroke="#1a1a1a" stroke-width="0.2" textLength="34.8" lengthAdjust="spacingAndGlyphs">Cold spell</text>
<circle cx="57.53" cy="315" r="2.5" fill="#fff" stroke="#777" stroke-width="0.8"/>
<text transform="translate(72.34,308.2) rotate(-90)" font-size="7.3" fill="#1a1a1a" stroke="#1a1a1a" stroke-width="0.2" textLength="17.1" lengthAdjust="spacingAndGlyphs">Frost</text>
<circle cx="70.05" cy="315" r="2.5" fill="#fff" stroke="#777" stroke-width="0.8"/>
<text transform="translate(84.86,308.2) rotate(-90)" font-size="7.3" fill="#1a1a1a" stroke="#1a1a1a" stroke-width="0.2" textLength="60.8" lengthAdjust="spacingAndGlyphs">Mean precipitation</text>
<circle cx="82.56" cy="315" r="2.5" fill="#fff" stroke="#777" stroke-width="0.8"/>
<text transform="translate(97.38,308.2) rotate(-90)" font-size="7.3" fill="#1a1a1a" stroke="#1a1a1a" stroke-width="0.2" textLength="35.3" lengthAdjust="spacingAndGlyphs">River flood</text>
<circle cx="95.08" cy="315" r="2.5" fill="#fff" stroke="#777" stroke-width="0.8"/>
<text transform="translate(109.89,308.2) rotate(-90)" font-size="7.3" fill="#1a1a1a" stroke="#1a1a1a" stroke-width="0.2" textLength="118.4" lengthAdjust="spacingAndGlyphs">Heavy precipitation and pluvial flood</text>
<circle cx="107.59" cy="315" r="2.5" fill="#fff" stroke="#777" stroke-width="0.8"/>
<text transform="translate(122.41,308.2) rotate(-90)" font-size="7.3" fill="#1a1a1a" stroke="#1a1a1a" stroke-width="0.2" textLength="30.0" lengthAdjust="spacingAndGlyphs">Landslide</text>
<circle cx="120.11" cy="315" r="2.5" fill="#fff" stroke="#777" stroke-width="0.8"/>
<text transform="translate(134.92,308.2) rotate(-90)" font-size="7.3" fill="#1a1a1a" stroke="#1a1a1a" stroke-width="0.2" textLength="22.5" lengthAdjust="spacingAndGlyphs">Aridity</text>
<circle cx="132.62" cy="315" r="2.5" fill="#fff" stroke="#777" stroke-width="0.8"/>
<text transform="translate(147.44,308.2) rotate(-90)" font-size="7.3" fill="#1a1a1a" stroke="#1a1a1a" stroke-width="0.2" textLength="66.2" lengthAdjust="spacingAndGlyphs">Hydrological drought</text>
<circle cx="145.13" cy="315" r="2.5" fill="#fff" stroke="#777" stroke-width="0.8"/>
<text transform="translate(159.95,308.2) rotate(-90)" font-size="7.3" fill="#1a1a1a" stroke="#1a1a1a" stroke-width="0.2" textLength="112.0" lengthAdjust="spacingAndGlyphs">Agricultural and ecological drought</text>
<circle cx="157.65" cy="315" r="2.5" fill="#fff" stroke="#777" stroke-width="0.8"/>
<text transform="translate(172.47,308.2) rotate(-90)" font-size="7.3" fill="#1a1a1a" stroke="#1a1a1a" stroke-width="0.2" textLength="39.5" lengthAdjust="spacingAndGlyphs">Fire weather</text>
<circle cx="170.17" cy="315" r="2.5" fill="#fff" stroke="#777" stroke-width="0.8"/>
<text transform="translate(184.98,308.2) rotate(-90)" font-size="7.3" fill="#1a1a1a" stroke="#1a1a1a" stroke-width="0.2" textLength="57.2" lengthAdjust="spacingAndGlyphs">Mean wind speed</text>
<circle cx="182.68" cy="315" r="2.5" fill="#fff" stroke="#777" stroke-width="0.8"/>
<text transform="translate(197.50,308.2) rotate(-90)" font-size="7.3" fill="#1a1a1a" stroke="#1a1a1a" stroke-width="0.2" textLength="59.7" lengthAdjust="spacingAndGlyphs">Severe wind storm</text>
<circle cx="195.19" cy="315" r="2.5" fill="#fff" stroke="#777" stroke-width="0.8"/>
<text transform="translate(210.01,308.2) rotate(-90)" font-size="7.3" fill="#1a1a1a" stroke="#1a1a1a" stroke-width="0.2" textLength="50.4" lengthAdjust="spacingAndGlyphs">Tropical cyclone</text>
<circle cx="207.71" cy="315" r="2.5" fill="#fff" stroke="#777" stroke-width="0.8"/>
<text transform="translate(222.53,308.2) rotate(-90)" font-size="7.3" fill="#1a1a1a" stroke="#1a1a1a" stroke-width="0.2" textLength="65.8" lengthAdjust="spacingAndGlyphs">Sand and dust storm</text>
<circle cx="220.23" cy="315" r="2.5" fill="#fff" stroke="#777" stroke-width="0.8"/>
<text transform="translate(235.04,308.2) rotate(-90)" font-size="7.3" fill="#1a1a1a" stroke="#1a1a1a" stroke-width="0.2" textLength="85.3" lengthAdjust="spacingAndGlyphs">Snow, glacier and ice sheet</text>
<circle cx="232.74" cy="315" r="2.5" fill="#fff" stroke="#777" stroke-width="0.8"/>
<text transform="translate(247.56,308.2) rotate(-90)" font-size="7.3" fill="#1a1a1a" stroke="#1a1a1a" stroke-width="0.2" textLength="35.3" lengthAdjust="spacingAndGlyphs">Permafrost</text>
<circle cx="245.25" cy="315" r="2.5" fill="#fff" stroke="#777" stroke-width="0.8"/>
<text transform="translate(260.07,308.2) rotate(-90)" font-size="7.3" fill="#1a1a1a" stroke="#1a1a1a" stroke-width="0.2" textLength="70.2" lengthAdjust="spacingAndGlyphs">Lake, river and sea ice</text>
<circle cx="257.77" cy="315" r="2.5" fill="#fff" stroke="#777" stroke-width="0.8"/>
<text transform="translate(272.59,308.2) rotate(-90)" font-size="7.3" fill="#1a1a1a" stroke="#1a1a1a" stroke-width="0.2" textLength="93.8" lengthAdjust="spacingAndGlyphs">Heavy snowfall and ice storm</text>
<circle cx="270.29" cy="315" r="2.5" fill="#fff" stroke="#777" stroke-width="0.8"/>
<text transform="translate(285.10,308.2) rotate(-90)" font-size="7.3" fill="#1a1a1a" stroke="#1a1a1a" stroke-width="0.2" textLength="14.5" lengthAdjust="spacingAndGlyphs">Hail</text>
<circle cx="282.80" cy="315" r="2.5" fill="#fff" stroke="#777" stroke-width="0.8"/>
<text transform="translate(297.62,308.2) rotate(-90)" font-size="7.3" fill="#1a1a1a" stroke="#1a1a1a" stroke-width="0.2" textLength="51.1" lengthAdjust="spacingAndGlyphs">Snow avalanche</text>
<circle cx="295.31" cy="315" r="2.5" fill="#fff" stroke="#777" stroke-width="0.8"/>
<text transform="translate(310.13,308.2) rotate(-90)" font-size="7.3" fill="#1a1a1a" stroke="#1a1a1a" stroke-width="0.2" textLength="67.9" lengthAdjust="spacingAndGlyphs">Air pollution weather</text>
<circle cx="307.83" cy="315" r="2.5" fill="#fff" stroke="#777" stroke-width="0.8"/>
<text transform="translate(322.65,308.2) rotate(-90)" font-size="7.3" fill="#1a1a1a" stroke="#1a1a1a" stroke-width="0.2" textLength="89.6" lengthAdjust="spacingAndGlyphs">Atmospheric CO₂ at surface</text>
<circle cx="320.35" cy="315" r="2.5" fill="#fff" stroke="#777" stroke-width="0.8"/>
<text transform="translate(335.16,308.2) rotate(-90)" font-size="7.3" fill="#1a1a1a" stroke="#1a1a1a" stroke-width="0.2" textLength="64.0" lengthAdjust="spacingAndGlyphs">Radiation at surface</text>
<circle cx="332.86" cy="315" r="2.5" fill="#fff" stroke="#777" stroke-width="0.8"/>
<text transform="translate(347.68,308.2) rotate(-90)" font-size="7.3" fill="#1a1a1a" stroke="#1a1a1a" stroke-width="0.2" textLength="55.1" lengthAdjust="spacingAndGlyphs">Relative sea level</text>
<circle cx="345.38" cy="315" r="2.5" fill="#fff" stroke="#777" stroke-width="0.8"/>
<text transform="translate(360.19,308.2) rotate(-90)" font-size="7.3" fill="#1a1a1a" stroke="#1a1a1a" stroke-width="0.2" textLength="42.7" lengthAdjust="spacingAndGlyphs">Coastal flood</text>
<circle cx="357.89" cy="315" r="2.5" fill="#fff" stroke="#777" stroke-width="0.8"/>
<text transform="translate(372.71,308.2) rotate(-90)" font-size="7.3" fill="#1a1a1a" stroke="#1a1a1a" stroke-width="0.2" textLength="49.5" lengthAdjust="spacingAndGlyphs">Coastal erosion</text>
<circle cx="370.41" cy="315" r="2.5" fill="#fff" stroke="#777" stroke-width="0.8"/>
<text transform="translate(385.22,308.2) rotate(-90)" font-size="7.3" fill="#1a1a1a" stroke="#1a1a1a" stroke-width="0.2" textLength="55.5" lengthAdjust="spacingAndGlyphs">Marine heatwave</text>
<circle cx="382.92" cy="315" r="2.5" fill="#fff" stroke="#777" stroke-width="0.8"/>
<text transform="translate(397.74,308.2) rotate(-90)" font-size="7.3" fill="#1a1a1a" stroke="#1a1a1a" stroke-width="0.2" textLength="43.8" lengthAdjust="spacingAndGlyphs">Ocean acidity</text>
<circle cx="395.44" cy="315" r="2.5" fill="#fff" stroke="#777" stroke-width="0.8"/>
<text transform="translate(440.60,308.2) rotate(-90)" font-size="7.3" fill="#1a1a1a" stroke="#1a1a1a" stroke-width="0.2" textLength="80.6" lengthAdjust="spacingAndGlyphs">Mean ocean temperature</text>
<circle cx="438.30" cy="315" r="2.5" fill="#fff" stroke="#777" stroke-width="0.8"/>
<text transform="translate(453.10,308.2) rotate(-90)" font-size="7.3" fill="#1a1a1a" stroke="#1a1a1a" stroke-width="0.2" textLength="55.4" lengthAdjust="spacingAndGlyphs">Marine heatwave</text>
<circle cx="450.80" cy="315" r="2.5" fill="#fff" stroke="#777" stroke-width="0.8"/>
<text transform="translate(465.60,308.2) rotate(-90)" font-size="7.3" fill="#1a1a1a" stroke="#1a1a1a" stroke-width="0.2" textLength="43.7" lengthAdjust="spacingAndGlyphs">Ocean acidity</text>
<circle cx="463.30" cy="315" r="2.5" fill="#fff" stroke="#777" stroke-width="0.8"/>
<text transform="translate(478.10,308.2) rotate(-90)" font-size="7.3" fill="#1a1a1a" stroke="#1a1a1a" stroke-width="0.2" textLength="45.8" lengthAdjust="spacingAndGlyphs">Ocean salinity</text>
<circle cx="475.80" cy="315" r="2.5" fill="#fff" stroke="#777" stroke-width="0.8"/>
<text transform="translate(490.60,308.2) rotate(-90)" font-size="7.3" fill="#1a1a1a" stroke="#1a1a1a" stroke-width="0.2" textLength="56.5" lengthAdjust="spacingAndGlyphs">Dissolved oxygen</text>
<circle cx="488.30" cy="315" r="2.5" fill="#fff" stroke="#777" stroke-width="0.8"/>
<line x1="32.50" x2="70.05" y1="181.5" y2="181.5" stroke="#7a7a7a" stroke-width="0.8"/>
<line x1="51.27" x2="51.27" y1="177.2" y2="181.5" stroke="#7a7a7a" stroke-width="0.8"/>
<text x="50.95" y="173.2" font-size="7.7" font-weight="bold" font-style="normal" fill="#1e1e1e" text-anchor="middle" textLength="45.7" lengthAdjust="spacingAndGlyphs">Heat and Cold</text>
<line x1="82.56" x2="170.17" y1="181.5" y2="181.5" stroke="#7a7a7a" stroke-width="0.8"/>
<line x1="126.36" x2="126.36" y1="177.2" y2="181.5" stroke="#7a7a7a" stroke-width="0.8"/>
<text x="126.10000000000001" y="173.2" font-size="7.7" font-weight="bold" font-style="normal" fill="#1e1e1e" text-anchor="middle" textLength="41.4" lengthAdjust="spacingAndGlyphs">Wet and Dry</text>
<line x1="182.68" x2="220.23" y1="181.5" y2="181.5" stroke="#7a7a7a" stroke-width="0.8"/>
<line x1="201.45" x2="201.45" y1="177.2" y2="181.5" stroke="#7a7a7a" stroke-width="0.8"/>
<text x="201.25" y="173.2" font-size="7.7" font-weight="bold" font-style="normal" fill="#1e1e1e" text-anchor="middle" textLength="17.9" lengthAdjust="spacingAndGlyphs">Wind</text>
<line x1="232.74" x2="295.31" y1="181.5" y2="181.5" stroke="#7a7a7a" stroke-width="0.8"/>
<line x1="264.03" x2="264.03" y1="177.2" y2="181.5" stroke="#7a7a7a" stroke-width="0.8"/>
<text x="263.85" y="173.2" font-size="7.7" font-weight="bold" font-style="normal" fill="#1e1e1e" text-anchor="middle" textLength="42.5" lengthAdjust="spacingAndGlyphs">Snow and Ice</text>
<line x1="307.83" x2="332.86" y1="181.5" y2="181.5" stroke="#7a7a7a" stroke-width="0.8"/>
<line x1="320.35" x2="320.35" y1="177.2" y2="181.5" stroke="#7a7a7a" stroke-width="0.8"/>
<text x="320.2" y="173.2" font-size="7.7" font-weight="bold" font-style="normal" fill="#1e1e1e" text-anchor="middle" textLength="19.6" lengthAdjust="spacingAndGlyphs">Other</text>
<line x1="345.38" x2="395.44" y1="181.5" y2="181.5" stroke="#7a7a7a" stroke-width="0.8"/>
<line x1="370.40" x2="370.40" y1="177.2" y2="181.5" stroke="#7a7a7a" stroke-width="0.8"/>
<text x="370.0" y="173.2" font-size="7.7" font-weight="bold" font-style="normal" fill="#1e1e1e" text-anchor="middle" textLength="24.8" lengthAdjust="spacingAndGlyphs">Coastal</text>
<line x1="438.30" x2="488.30" y1="181.5" y2="181.5" stroke="#7a7a7a" stroke-width="0.8"/>
<line x1="463.30" x2="463.30" y1="177.2" y2="181.5" stroke="#7a7a7a" stroke-width="0.8"/>
<text x="463.8" y="173.2" font-size="7.7" font-weight="bold" font-style="normal" fill="#1e1e1e" text-anchor="middle" textLength="40.4" lengthAdjust="spacingAndGlyphs">Open Ocean</text>
<line x1="32.50" x2="32.50" y1="181.5" y2="220.40" stroke="#b4b4b4" stroke-width="0.7"/>
<line x1="45.02" x2="45.02" y1="181.5" y2="257.90" stroke="#b4b4b4" stroke-width="0.7"/>
<line x1="57.53" x2="57.53" y1="181.5" y2="270.70" stroke="#b4b4b4" stroke-width="0.7"/>
<line x1="70.05" x2="70.05" y1="181.5" y2="288.40" stroke="#b4b4b4" stroke-width="0.7"/>
<line x1="82.56" x2="82.56" y1="181.5" y2="244.70" stroke="#b4b4b4" stroke-width="0.7"/>
<line x1="95.08" x2="95.08" y1="181.5" y2="270.20" stroke="#b4b4b4" stroke-width="0.7"/>
<line x1="107.59" x2="107.59" y1="181.5" y2="187.10" stroke="#b4b4b4" stroke-width="0.7"/>
<line x1="120.11" x2="120.11" y1="181.5" y2="275.50" stroke="#b4b4b4" stroke-width="0.7"/>
<line x1="132.62" x2="132.62" y1="181.5" y2="283.00" stroke="#b4b4b4" stroke-width="0.7"/>
<line x1="145.13" x2="145.13" y1="181.5" y2="239.30" stroke="#b4b4b4" stroke-width="0.7"/>
<line x1="157.65" x2="157.65" y1="181.5" y2="193.50" stroke="#b4b4b4" stroke-width="0.7"/>
<line x1="170.17" x2="170.17" y1="181.5" y2="266.00" stroke="#b4b4b4" stroke-width="0.7"/>
<line x1="182.68" x2="182.68" y1="181.5" y2="248.30" stroke="#b4b4b4" stroke-width="0.7"/>
<line x1="195.19" x2="195.19" y1="181.5" y2="245.80" stroke="#b4b4b4" stroke-width="0.7"/>
<line x1="207.71" x2="207.71" y1="181.5" y2="255.10" stroke="#b4b4b4" stroke-width="0.7"/>
<line x1="220.23" x2="220.23" y1="181.5" y2="239.70" stroke="#b4b4b4" stroke-width="0.7"/>
<line x1="232.74" x2="232.74" y1="181.5" y2="220.20" stroke="#b4b4b4" stroke-width="0.7"/>
<line x1="245.25" x2="245.25" y1="181.5" y2="270.20" stroke="#b4b4b4" stroke-width="0.7"/>
<line x1="257.77" x2="257.77" y1="181.5" y2="235.30" stroke="#b4b4b4" stroke-width="0.7"/>
<line x1="270.29" x2="270.29" y1="181.5" y2="211.70" stroke="#b4b4b4" stroke-width="0.7"/>
<line x1="282.80" x2="282.80" y1="181.5" y2="291.00" stroke="#b4b4b4" stroke-width="0.7"/>
<line x1="295.31" x2="295.31" y1="181.5" y2="254.40" stroke="#b4b4b4" stroke-width="0.7"/>
<line x1="307.83" x2="307.83" y1="181.5" y2="237.60" stroke="#b4b4b4" stroke-width="0.7"/>
<line x1="320.35" x2="320.35" y1="181.5" y2="215.90" stroke="#b4b4b4" stroke-width="0.7"/>
<line x1="332.86" x2="332.86" y1="181.5" y2="241.50" stroke="#b4b4b4" stroke-width="0.7"/>
<line x1="345.38" x2="345.38" y1="181.5" y2="250.40" stroke="#b4b4b4" stroke-width="0.7"/>
<line x1="357.89" x2="357.89" y1="181.5" y2="262.80" stroke="#b4b4b4" stroke-width="0.7"/>
<line x1="370.41" x2="370.41" y1="181.5" y2="256.00" stroke="#b4b4b4" stroke-width="0.7"/>
<line x1="382.92" x2="382.92" y1="181.5" y2="250.00" stroke="#b4b4b4" stroke-width="0.7"/>
<line x1="395.44" x2="395.44" y1="181.5" y2="261.70" stroke="#b4b4b4" stroke-width="0.7"/>
<line x1="438.30" x2="438.30" y1="181.5" y2="224.90" stroke="#b4b4b4" stroke-width="0.7"/>
<line x1="450.80" x2="450.80" y1="181.5" y2="250.10" stroke="#b4b4b4" stroke-width="0.7"/>
<line x1="463.30" x2="463.30" y1="181.5" y2="261.80" stroke="#b4b4b4" stroke-width="0.7"/>
<line x1="475.80" x2="475.80" y1="181.5" y2="259.70" stroke="#b4b4b4" stroke-width="0.7"/>
<line x1="488.30" x2="488.30" y1="181.5" y2="249.00" stroke="#b4b4b4" stroke-width="0.7"/>
<circle cx="51.27" cy="154.6" r="7.2" fill="#fff" stroke="#666" stroke-width="1.3"/>
<path d="M49.77,154.48 V150.6 a1.5,1.5 0 0 1 3,0 V154.48 a2.6,2.6 0 1 1 -3,0 z" fill="none" stroke="#3c3c3c" stroke-width="1.0"/>
<circle cx="51.27" cy="156.6" r="1.0" fill="#3c3c3c"/>
<circle cx="126.36" cy="154.6" r="7.2" fill="#fff" stroke="#666" stroke-width="1.3"/>
<path d="M126.36,150.80 C127.56,152.60 129.36,154.60 129.36,156.10 a3,3 0 0 1 -6,0 C123.36,154.60 125.16,152.60 126.36,150.80 z" fill="none" stroke="#444" stroke-width="1.0"/>
<circle cx="201.45" cy="154.6" r="7.2" fill="#fff" stroke="#666" stroke-width="1.3"/>
<path d="M197.65,155.50 H203.75 M197.85,156.30 H203.65 M198.45,157.10 H203.25" fill="none" stroke="#555" stroke-width="0.75"/>
<path d="M203.75,155.50 A1.75,1.75 0 1 0 201.75,153.30" fill="none" stroke="#444" stroke-width="0.85"/>
<circle cx="264.03" cy="154.6" r="7.2" fill="#fff" stroke="#666" stroke-width="1.3"/>
<circle cx="264.03" cy="151.30" r="0.85" fill="#3c3c3c"/>
<circle cx="261.17" cy="152.95" r="0.85" fill="#3c3c3c"/>
<circle cx="261.17" cy="156.25" r="0.85" fill="#3c3c3c"/>
<circle cx="264.03" cy="157.90" r="0.85" fill="#3c3c3c"/>
<circle cx="266.89" cy="156.25" r="0.85" fill="#3c3c3c"/>
<circle cx="266.89" cy="152.95" r="0.85" fill="#3c3c3c"/>
<path d="M264.03,154.60 L264.03,151.40 M264.03,154.60 L261.26,153.00 M264.03,154.60 L261.26,156.20 M264.03,154.60 L264.03,157.80 M264.03,154.60 L266.80,156.20 M264.03,154.60 L266.80,153.00 " stroke="#3c3c3c" stroke-width="0.6"/>
<circle cx="264.03" cy="154.60" r="0.9" fill="#444"/>
<circle cx="320.35" cy="154.6" r="7.2" fill="#fff" stroke="#666" stroke-width="1.3"/>
<circle cx="320.55" cy="152.40" r="1.65" fill="none" stroke="#3c3c3c" stroke-width="0.8"/>
<circle cx="319.05" cy="157.20" r="1.65" fill="none" stroke="#3c3c3c" stroke-width="0.8"/>
<line x1="319.85" y1="153.80" x2="319.55" y2="155.70" stroke="#555" stroke-width="0.6"/>
<circle cx="323.25" cy="155.40" r="0.95" fill="#3c3c3c"/>
<circle cx="370.40" cy="154.6" r="7.2" fill="#fff" stroke="#666" stroke-width="1.3"/>
<line x1="366.00" x2="374.80" y1="152.60" y2="152.60" stroke="#444" stroke-width="0.85"/>
<line x1="366.00" x2="374.80" y1="154.60" y2="154.60" stroke="#444" stroke-width="0.85"/>
<line x1="366.00" x2="374.80" y1="156.60" y2="156.60" stroke="#444" stroke-width="0.85"/>
<circle cx="463.30" cy="154.6" r="7.2" fill="#fff" stroke="#666" stroke-width="1.3"/>
<path d="M458.50,152.80 q0.8,-1.1 1.6,0 t1.6,0 t1.6,0 t1.6,0 t1.6,0 t1.6,0 M458.50,154.60 q0.8,-1.1 1.6,0 t1.6,0 t1.6,0 t1.6,0 t1.6,0 t1.6,0 M458.50,156.40 q0.8,-1.1 1.6,0 t1.6,0 t1.6,0 t1.6,0 t1.6,0 t1.6,0 " fill="none" stroke="#444" stroke-width="0.55"/>
<defs><clipPath id="mclip"><path d="M426,43.3 L469,43.3 C483,43.3 491.6,54 491.6,66 C491.6,78 483,88.6 469,88.6 L426,88.6 C412,88.6 402.8,78 402.8,66 C402.8,54 412,43.3 426,43.3 Z"/></clipPath>
<pattern id="dots" width="3.0" height="3.0" patternUnits="userSpaceOnUse"><rect width="3.0" height="3.0" fill="#f3f3f3"/><circle cx="1.5" cy="1.5" r="0.42" fill="#c4c4c4"/></pattern></defs>
<g clip-path="url(#mclip)">
<rect x="400" y="40" width="96" height="52" fill="url(#dots)"/>
<path d="M434,84.3 L448,78.9 L496,78.9" fill="none" stroke="#b0b0b0" stroke-width="1.3"/>
<rect x="404" y="81.3" width="30" height="1.0" fill="#fafafa"/>
<path d="M414.88,47.69 L420.20,44.93 L451.02,44.50 L450.60,46.63 L443.58,49.18 L437.84,52.58 L432.31,57.26 L435.08,62.57 L439.33,65.76 L440.39,71.08 L437.20,77.45 L434.44,81.07 L431.89,76.39 L429.76,67.89 L425.51,62.57 L421.26,56.20 L417.01,50.88 Z" fill="#b0b0b0"/>
<path d="M443.58,45.78 L481.85,45.35 L483.33,50.88 L479.72,58.32 L475.47,63.64 L472.28,62.57 L468.03,59.38 L463.78,58.32 L460.59,61.51 L459.52,67.89 L455.70,75.33 L452.08,74.69 L449.96,67.89 L444.64,62.57 L443.58,57.26 L445.71,53.01 Z" fill="#b0b0b0"/>
<path d="M473.34,65.76 L483.97,65.34 L486.10,72.14 L480.78,76.82 L473.98,74.27 Z" fill="#b0b0b0"/>
<path d="M400.00,83.00 L434.00,83.00 L440.00,82.60 L496.00,83.40 L496.00,92.00 L400.00,92.00 Z" fill="#b0b0b0"/>
<rect x="400" y="63.49999999999999" width="96" height="1.2" fill="#ffffff" opacity="0.55"/>
<rect x="400" y="67.80000000000001" width="96" height="1.2" fill="#ffffff" opacity="0.55"/>
<rect x="400" y="81.2" width="40" height="1.0" fill="#e2e2e2" opacity="0.8"/>
<path d="M419.1,49.2 L445.7,49.2 M421.3,53.0 L438.3,53.0 M427.6,44.9 L429.8,60.4 M444.6,49.8 L481.8,49.8 M445.7,54.7 L478.7,54.7 M455.3,45.8 L455.7,63.6 M463.8,45.8 L464.8,58.3 M472.3,45.8 L474.4,61.5 M445.7,64.7 L459.5,64.7 M430.8,70.0 L440.4,70.0 M474.4,70.0 L485.0,70.0 M478.7,65.8 L479.1,76.4" stroke="#e4e4e4" stroke-width="0.45" fill="none"/>
</g>
<path d="M426,43.3 L469,43.3 C483,43.3 491.6,54 491.6,66 C491.6,78 483,88.6 469,88.6 L426,88.6 C412,88.6 402.8,78 402.8,66 C402.8,54 412,43.3 426,43.3 Z" fill="none" stroke="#c9c9c9" stroke-width="0.7"/>
<text x="410.3" y="99.8" font-size="7.9" font-weight="normal" font-style="normal" fill="#1e1e1e" text-anchor="start" textLength="74.5" lengthAdjust="spacingAndGlyphs" stroke="#1e1e1e" stroke-width="0.12">interactive-atlas.ipcc.ch</text>
<text x="25.9" y="546.8" font-size="5.0" font-weight="normal" font-style="normal" fill="#2a2a2a" text-anchor="start" textLength="52" lengthAdjust="spacingAndGlyphs" stroke="#2a2a2a" stroke-width="0.06"><tspan font-size="6.0">B</tspan>AR <tspan font-size="6.0">C</tspan>HART <tspan font-size="6.0">L</tspan>EGEND</text>
<rect x="25.9" y="551.4" width="8.0" height="7.2" fill="#823b6f"/>
<text x="38.2" y="558.0" font-size="7.8" font-weight="normal" font-style="normal" fill="#7f3d72" text-anchor="start" textLength="119.6" lengthAdjust="spacingAndGlyphs" stroke="#7f3d72" stroke-width="0.1">Regions with <tspan font-weight="bold" font-style="italic">high</tspan> <tspan font-style="italic">confidence</tspan> <tspan font-weight="bold">increase</tspan></text>
<rect x="25.9" y="561.6" width="8.0" height="7.2" fill="#dd9bb5"/>
<text x="38.2" y="567.9" font-size="7.8" font-weight="normal" font-style="normal" fill="#d393b4" text-anchor="start" textLength="131.3" lengthAdjust="spacingAndGlyphs" stroke="#d393b4" stroke-width="0.1">Regions with <tspan font-weight="bold" font-style="italic">medium</tspan> <tspan font-style="italic">confidence</tspan> <tspan font-weight="bold">increase</tspan></text>
<rect x="25.9" y="573.4" width="8.0" height="7.2" fill="#c05a30"/>
<text x="38.2" y="579.7" font-size="7.8" font-weight="normal" font-style="normal" fill="#bf5f35" text-anchor="start" textLength="121.8" lengthAdjust="spacingAndGlyphs" stroke="#bf5f35" stroke-width="0.1">Regions with <tspan font-weight="bold" font-style="italic">high</tspan> <tspan font-style="italic">confidence</tspan> <tspan font-weight="bold">decrease</tspan></text>
<rect x="25.9" y="583.7" width="8.0" height="7.2" fill="#e3b46c"/>
<text x="38.2" y="590.0" font-size="7.8" font-weight="normal" font-style="normal" fill="#d8a35e" text-anchor="start" textLength="133.7" lengthAdjust="spacingAndGlyphs" stroke="#d8a35e" stroke-width="0.1">Regions with <tspan font-weight="bold" font-style="italic">medium</tspan> <tspan font-style="italic">confidence</tspan> <tspan font-weight="bold">decrease</tspan></text>
<text x="188.8" y="546.9" font-size="5.0" font-weight="normal" font-style="normal" fill="#2a2a2a" text-anchor="start" textLength="95" lengthAdjust="spacingAndGlyphs" stroke="#2a2a2a" stroke-width="0.06"><tspan font-size="6.0">L</tspan>IGHTER-<tspan font-size="6.0">S</tspan>HADED ‘<tspan font-size="6.0">E</tspan>NVELOPE’ <tspan font-size="6.0">L</tspan>EGEND</text>
<rect x="189.1" y="551.3" width="7.9" height="19.2" fill="#ece2eb"/>
<rect x="189.1" y="571.5" width="7.9" height="19.7" fill="#f6e8e3"/>
<rect x="189.1" y="570.2" width="7.9" height="1.5" fill="#8a8a8a"/>
<text x="201.3" y="556.9" font-size="7.6" font-weight="normal" font-style="normal" fill="#1e1e1e" text-anchor="start" textLength="185.6" lengthAdjust="spacingAndGlyphs" stroke="#1e1e1e" stroke-width="0.2">The height of the lighter shaded ‘envelope’ behind each bar</text>
<text x="201.3" y="565.17" font-size="7.6" font-weight="normal" font-style="normal" fill="#1e1e1e" text-anchor="start" textLength="186.6" lengthAdjust="spacingAndGlyphs" stroke="#1e1e1e" stroke-width="0.2">represents the maximum number of regions for which each</text>
<text x="201.3" y="573.4399999999999" font-size="7.6" font-weight="normal" font-style="normal" fill="#1e1e1e" text-anchor="start" textLength="193.5" lengthAdjust="spacingAndGlyphs" stroke="#1e1e1e" stroke-width="0.2">CID is relevant. The envelope is symmetrical about the x-axis</text>
<text x="201.3" y="581.7099999999999" font-size="7.6" font-weight="normal" font-style="normal" fill="#1e1e1e" text-anchor="start" textLength="187.1" lengthAdjust="spacingAndGlyphs" stroke="#1e1e1e" stroke-width="0.2">showing the maximum possible number of relevant regions</text>
<text x="201.3" y="589.98" font-size="7.6" font-weight="normal" font-style="normal" fill="#1e1e1e" text-anchor="start" textLength="171.3" lengthAdjust="spacingAndGlyphs" stroke="#1e1e1e" stroke-width="0.2">for CID increase (upper part) or decrease (lower part).</text>
<text x="409.3" y="546.9" font-size="5.0" font-weight="normal" font-style="normal" fill="#2a2a2a" text-anchor="start" textLength="74.5" lengthAdjust="spacingAndGlyphs" stroke="#2a2a2a" stroke-width="0.06"><tspan font-size="6.0">A</tspan>SSESSED <tspan font-size="6.0">F</tspan>UTURE <tspan font-size="6.0">C</tspan>HANGES</text>
<text x="409.3" y="557.3" font-size="7.7" font-weight="normal" font-style="normal" fill="#1e1e1e" text-anchor="start" textLength="82.4" lengthAdjust="spacingAndGlyphs" stroke="#1e1e1e" stroke-width="0.2">Changes refer to a 20–30</text>
<text x="409.3" y="565.53" font-size="7.7" font-weight="normal" font-style="normal" fill="#1e1e1e" text-anchor="start" textLength="87.4" lengthAdjust="spacingAndGlyphs" stroke="#1e1e1e" stroke-width="0.2">year period centred around</text>
<text x="409.3" y="573.76" font-size="7.7" font-weight="normal" font-style="normal" fill="#1e1e1e" text-anchor="start" textLength="75.3" lengthAdjust="spacingAndGlyphs" stroke="#1e1e1e" stroke-width="0.2">2050 and/or consistent</text>
<text x="409.3" y="581.99" font-size="7.7" font-weight="normal" font-style="normal" fill="#1e1e1e" text-anchor="start" textLength="79" lengthAdjust="spacingAndGlyphs" stroke="#1e1e1e" stroke-width="0.2">with 2°C global warming</text>
<text x="409.3" y="590.2199999999999" font-size="7.7" font-weight="normal" font-style="normal" fill="#1e1e1e" text-anchor="start" textLength="68.7" lengthAdjust="spacingAndGlyphs" stroke="#1e1e1e" stroke-width="0.2">compared to a similar</text>
<text x="409.3" y="598.4499999999999" font-size="7.7" font-weight="normal" font-style="normal" fill="#1e1e1e" text-anchor="start" textLength="82.4" lengthAdjust="spacingAndGlyphs" stroke="#1e1e1e" stroke-width="0.2">period within 1960–2014</text>
<text x="409.3" y="606.68" font-size="7.7" font-weight="normal" font-style="normal" fill="#1e1e1e" text-anchor="start" textLength="48.3" lengthAdjust="spacingAndGlyphs" stroke="#1e1e1e" stroke-width="0.2">or 1850–1900.</text>
</svg></body></html>
